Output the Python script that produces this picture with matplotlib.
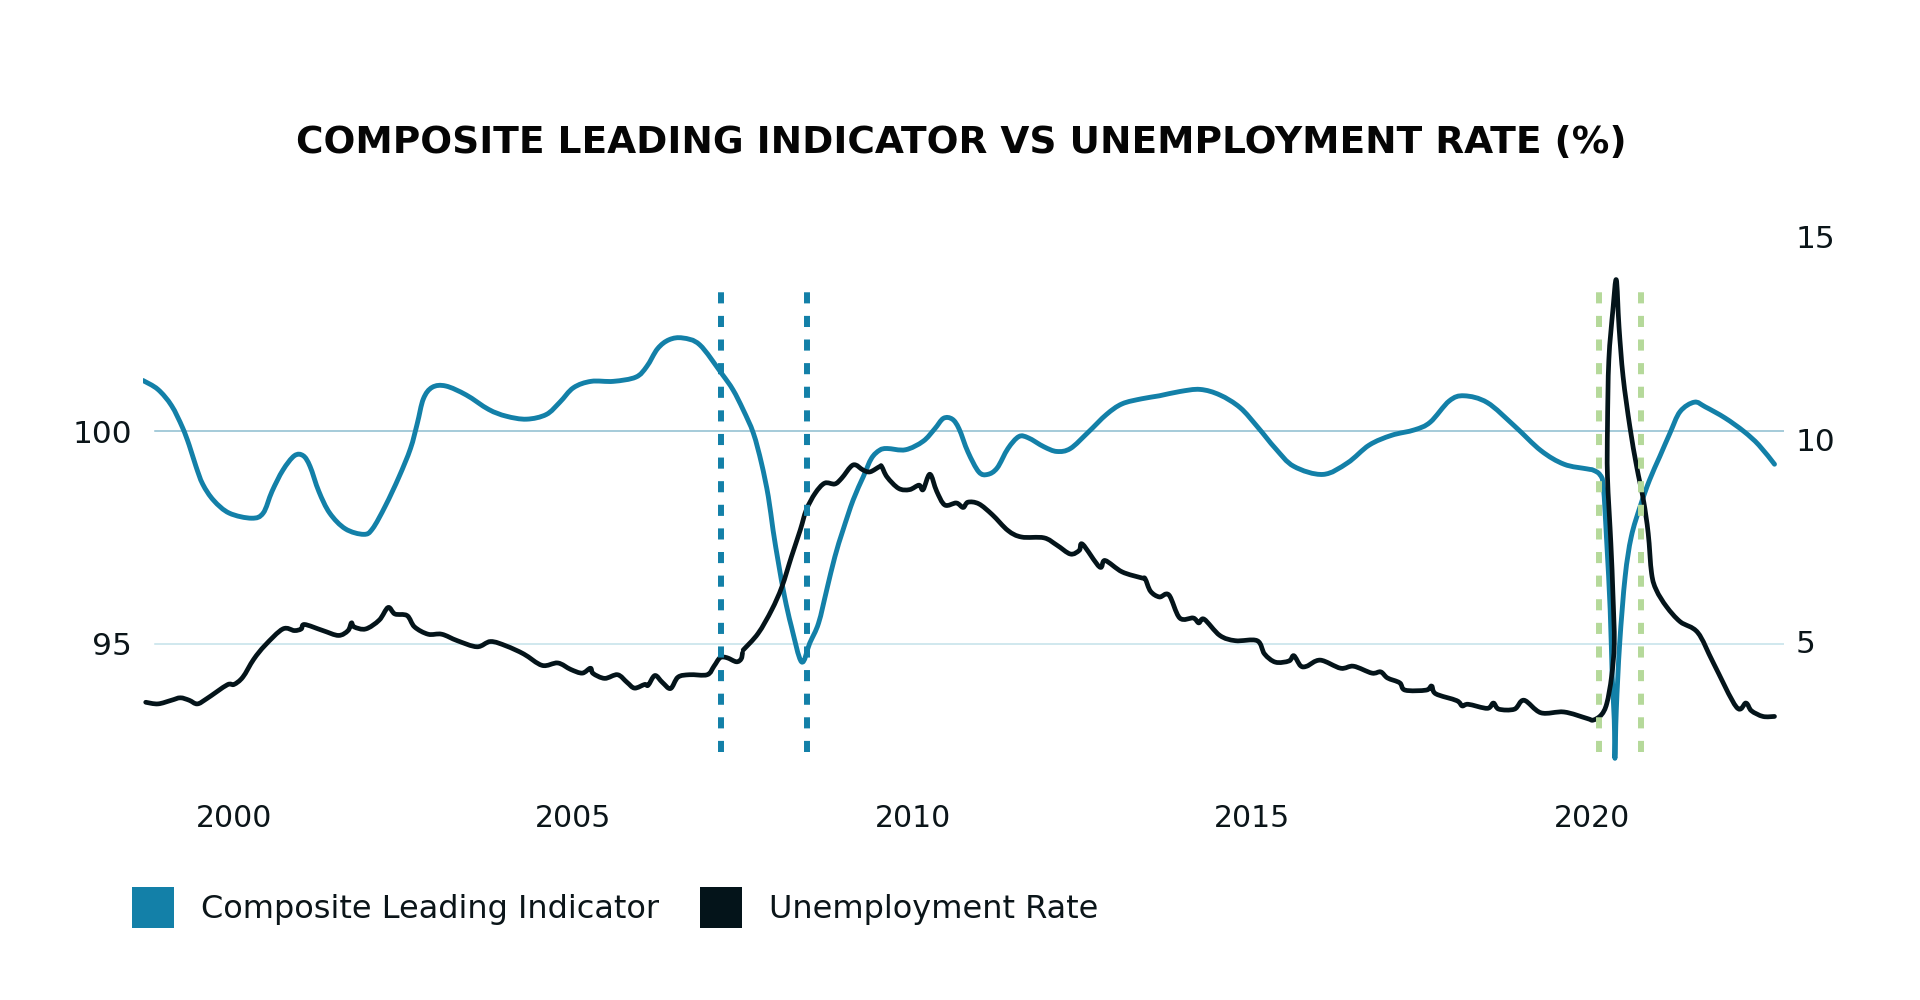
import matplotlib
matplotlib.use('Agg')
import matplotlib.pyplot as plt
import numpy as np
from matplotlib.patches import Patch, PathPatch
from matplotlib.path import Path

# composite leading indicator, left axis
cli_year = [1998.66, 1998.88, 1999.08, 1999.24, 1999.34, 1999.44, 1999.54, 1999.70, 1999.93,
            2000.26, 2000.43, 2000.56, 2000.72, 2000.89, 2001.02, 2001.12, 2001.25, 2001.41,
            2001.64, 2001.91, 2002.04, 2002.23, 2002.43, 2002.60, 2002.70, 2002.79, 2002.92,
            2003.12, 2003.42, 2003.75, 2004.01, 2004.31, 2004.60, 2004.80, 2005.00, 2005.26,
            2005.59, 2005.92, 2006.08, 2006.24, 2006.41, 2006.61, 2006.86, 2007.18, 2007.35,
            2007.50, 2007.65, 2007.77, 2007.87, 2007.94, 2008.02, 2008.11, 2008.21, 2008.36,
            2008.48, 2008.61, 2008.73, 2008.85, 2008.97, 2009.12, 2009.27, 2009.39, 2009.51,
            2009.62, 2009.89, 2010.15, 2010.32, 2010.45, 2010.58, 2010.68, 2010.81, 2010.97,
            2011.10, 2011.24, 2011.40, 2011.56, 2011.70, 2011.93, 2012.12, 2012.32, 2012.58,
            2012.85, 2013.08, 2013.37, 2013.63, 2013.93, 2014.23, 2014.52, 2014.82, 2015.08,
            2015.34, 2015.61, 2016.04, 2016.40, 2016.72, 2017.05, 2017.39, 2017.62, 2017.90,
            2018.12, 2018.46, 2018.86, 2019.25, 2019.59, 2019.93, 2020.02, 2020.12, 2020.17,
            2020.22, 2020.27, 2020.30, 2020.33, 2020.34, 2020.36, 2020.41, 2020.49, 2020.58,
            2020.71, 2020.85, 2021.00, 2021.15, 2021.30, 2021.51, 2021.67, 2021.96, 2022.24,
            2022.46, 2022.69]
cli_value = [101.20, 100.99, 100.61, 100.10, 99.68, 99.18, 98.76, 98.38, 98.08,
             97.96, 98.08, 98.59, 99.09, 99.43, 99.43, 99.18, 98.59, 98.08,
             97.71, 97.58, 97.71, 98.25, 98.93, 99.60, 100.19, 100.77, 101.04,
             101.07, 100.86, 100.52, 100.36, 100.29, 100.40, 100.69, 101.03, 101.18,
             101.18, 101.28, 101.53, 101.95, 102.16, 102.20, 102.04, 101.37, 100.98,
             100.51, 99.96, 99.25, 98.47, 97.68, 96.90, 96.11, 95.41, 94.58,
             95.02, 95.49, 96.27, 97.05, 97.68, 98.39, 98.94, 99.37, 99.56,
             99.60, 99.57, 99.77, 100.06, 100.31, 100.29, 100.06, 99.52, 99.05,
             98.99, 99.14, 99.60, 99.88, 99.85, 99.64, 99.53, 99.60, 99.98,
             100.40, 100.65, 100.77, 100.84, 100.94, 100.99, 100.86, 100.56, 100.10,
             99.60, 99.18, 98.99, 99.26, 99.68, 99.91, 100.04, 100.22, 100.72,
             100.84, 100.68, 100.13, 99.55, 99.23, 99.12, 99.09, 98.98, 98.70,
             97.37, 95.80, 94.23, 93.21, 92.31, 93.45, 95.02, 96.58, 97.52,
             98.23, 98.86, 99.41, 99.96, 100.47, 100.69, 100.58, 100.32, 100.00,
             99.68, 99.23]

# unemployment rate (%), right axis -- nan is the small break in the line
unemp_year = [1998.70, 1998.88, 1999.08, 1999.21, 1999.34, 1999.46, 1999.60, 1999.90, 2000.00,
              2000.13, 2000.29, 2000.46, 2000.72, 2000.89, 2000.99, 2001.04, 2001.31, 2001.54,
              2001.68, 2001.73, 2001.77, 2001.94, 2002.14, 2002.27, 2002.37, 2002.55, 2002.66,
              2002.86, 2003.06, 2003.29, 2003.58, 2003.78, 2004.01, 2004.27, 2004.54, 2004.77,
              2004.96, 2005.13, 2005.25, 2005.29, 2005.46, 2005.65, 2005.79, 2005.90, 2006.05,
              2006.10, 2006.20, 2006.31, 2006.43, 2006.54, 2006.71, 2006.97, 2007.07, 2007.16,
              2007.26, 2007.40, 2007.47, 2007.49, np.nan, 2007.50, 2007.72, 2007.92, 2008.07,
              2008.21, 2008.34, 2008.43, 2008.56, 2008.70, 2008.85, 2008.95, 2009.12, 2009.27,
              2009.37, 2009.51, 2009.54, 2009.62, 2009.79, 2009.95, 2010.09, 2010.15, 2010.25,
              2010.35, 2010.47, 2010.64, 2010.74, 2010.81, 2010.97, 2011.17, 2011.40, 2011.60,
              2011.93, 2012.12, 2012.32, 2012.45, 2012.50, 2012.75, 2012.83, 2013.08, 2013.37,
              2013.42, 2013.50, 2013.63, 2013.77, 2013.93, 2014.13, 2014.21, 2014.29, 2014.52,
              2014.75, 2015.07, 2015.18, 2015.34, 2015.54, 2015.61, 2015.71, 2015.80, 2016.00,
              2016.30, 2016.49, 2016.76, 2016.89, 2016.99, 2017.17, 2017.25, 2017.56, 2017.64,
              2017.70, 2018.01, 2018.09, 2018.18, 2018.46, 2018.55, 2018.63, 2018.86, 2019.00,
              2019.25, 2019.59, 2019.93, 2020.02, 2020.14, 2020.22, 2020.29, 2020.33, 2020.31,
              2020.28, 2020.23, 2020.23, 2020.25, 2020.31, 2020.36, 2020.40, 2020.46, 2020.56,
              2020.66, 2020.76, 2020.83, 2020.88, 2020.95, 2021.10, 2021.30, 2021.56, 2021.79,
              2022.13, 2022.27, 2022.35, 2022.52, 2022.69]
unemp_value = [3.50, 3.46, 3.55, 3.61, 3.55, 3.46, 3.59, 3.93, 3.94,
               4.12, 4.56, 4.91, 5.31, 5.27, 5.31, 5.42, 5.27, 5.15,
               5.27, 5.46, 5.36, 5.31, 5.53, 5.84, 5.68, 5.64, 5.36,
               5.18, 5.18, 5.02, 4.87, 5.00, 4.89, 4.69, 4.41, 4.47,
               4.31, 4.22, 4.34, 4.21, 4.09, 4.18, 3.99, 3.85, 3.94,
               3.92, 4.16, 3.99, 3.84, 4.12, 4.18, 4.18, 4.39, 4.60,
               4.60, 4.50, 4.57, 4.72, np.nan, 4.79, 5.20, 5.78, 6.35,
               7.09, 7.75, 8.25, 8.66, 8.91, 8.89, 9.03, 9.36, 9.23,
               9.19, 9.32, 9.32, 9.06, 8.78, 8.75, 8.86, 8.75, 9.13,
               8.71, 8.37, 8.42, 8.31, 8.44, 8.40, 8.13, 7.74, 7.58,
               7.56, 7.38, 7.16, 7.25, 7.40, 6.84, 7.00, 6.72, 6.57,
               6.55, 6.24, 6.10, 6.15, 5.58, 5.58, 5.46, 5.55, 5.15,
               5.02, 5.02, 4.69, 4.49, 4.52, 4.65, 4.40, 4.39, 4.54,
               4.34, 4.39, 4.22, 4.25, 4.10, 3.98, 3.80, 3.80, 3.90,
               3.71, 3.54, 3.41, 3.45, 3.35, 3.48, 3.33, 3.33, 3.55,
               3.24, 3.26, 3.10, 3.06, 3.19, 3.47, 4.13, 4.96, 6.19,
               7.42, 9.07, 10.30, 11.95, 13.19, 13.93, 12.77, 11.54, 10.30,
               9.32, 8.49, 7.67, 6.68, 6.27, 5.86, 5.49, 5.22, 4.47,
               3.38, 3.48, 3.29, 3.15, 3.15]

# marked periods (vertical dotted lines)
gfc_lines = [2007.18, 2008.44]
covid_lines = [2020.11, 2020.73]

year_ticks = [2000, 2005, 2010, 2015, 2020]
cli_ticks = [95, 100]
unemp_ticks = [5, 10, 15]

BLUE = '#1380a8'
DARK = '#04141a'
GREEN = '#b5d99a'
TEXT = '#0b1519'

plt.rcParams['font.family'] = ['DejaVu Sans']
plt.rcParams['lines.scale_dashes'] = False


def smooth_line(a, xs, ys, **kw):
    # draw a curve through the points (catmull-rom as bezier), split on nan
    xs = np.asarray(xs, float)
    ys = np.asarray(ys, float)
    ok = ~np.isnan(xs)
    breaks = np.flatnonzero(np.diff(np.r_[0, ok.astype(int), 0]))
    for s, e in zip(breaks[::2], breaks[1::2]):
        p = np.column_stack([xs[s:e], ys[s:e]])
        q = np.vstack([p[0], p, p[-1]])
        verts = [p[0]]
        codes = [Path.MOVETO]
        for i in range(len(p) - 1):
            c1 = q[i + 1] + (q[i + 2] - q[i]) / 6
            c2 = q[i + 2] - (q[i + 3] - q[i + 1]) / 6
            verts += [c1, c2, p[i + 1]]
            codes += [Path.CURVE4] * 3
        a.add_patch(PathPatch(Path(verts, codes), fill=False, **kw))


fig = plt.figure(figsize=(19.2, 10), dpi=100)
ax = fig.add_axes([143 / 1920, 0.235, 1641 / 1920, 0.537])
ax2 = ax.twinx()

ax.set_xlim(1998.66, 2022.83)
ax.set_ylim(92.153, 104.788)
ax2.set_ylim(1.951, 15.21)

ax.axhline(100, xmin=0.0073, color='#8dbdd0', lw=1.1, zorder=1)
ax.axhline(95, xmin=0.0073, color='#c3e1ea', lw=1.1, zorder=1)

smooth_line(ax, cli_year, cli_value, edgecolor=BLUE, lw=3.5,
            capstyle='round', joinstyle='round', zorder=3)
smooth_line(ax2, unemp_year, unemp_value, edgecolor=DARK, lw=3.4,
            capstyle='round', joinstyle='round', zorder=3)

for x in gfc_lines:
    ax2.axvline(x, ymin=0.0242, ymax=0.9013, color=BLUE, lw=4.3,
                linestyle=(0, (8, 9)), dash_capstyle='butt', zorder=4)
for x in covid_lines:
    ax2.axvline(x, ymin=0.0242, ymax=0.9013, color=GREEN, lw=4.3,
                linestyle=(0, (8, 9)), dash_capstyle='butt', zorder=4)

ax.set_xticks(year_ticks)
ax.set_xticklabels([str(y) for y in year_ticks])
ax.set_yticks(cli_ticks)
ax2.set_yticks(unemp_ticks)

ax.tick_params(axis='x', length=0, pad=28, labelsize=21.5, labelcolor=TEXT)
ax.tick_params(axis='y', length=0, pad=8, labelsize=22.5, labelcolor=TEXT)
ax2.tick_params(axis='y', length=0, pad=8, labelsize=22.5, labelcolor=TEXT)

for a in (ax, ax2):
    for s in a.spines.values():
        s.set_visible(False)

fig.text(0.5005, 0.857, 'COMPOSITE LEADING INDICATOR VS UNEMPLOYMENT RATE (%)',
         ha='center', va='center', fontsize=27, fontweight='bold', color='#050505')

handles = [Patch(facecolor=BLUE, edgecolor='none', label='Composite Leading Indicator'),
           Patch(facecolor=DARK, edgecolor='none', label='Unemployment Rate')]
fig.legend(handles=handles, loc='center left', bbox_to_anchor=(132 / 1920, 0.0925),
           ncol=2, frameon=False, fontsize=23, labelcolor=TEXT,
           handlelength=1.3, handleheight=1.6, handletextpad=0.85,
           columnspacing=1.3, borderpad=0, borderaxespad=0)

fig.savefig('out.png', dpi=100, facecolor='white')
